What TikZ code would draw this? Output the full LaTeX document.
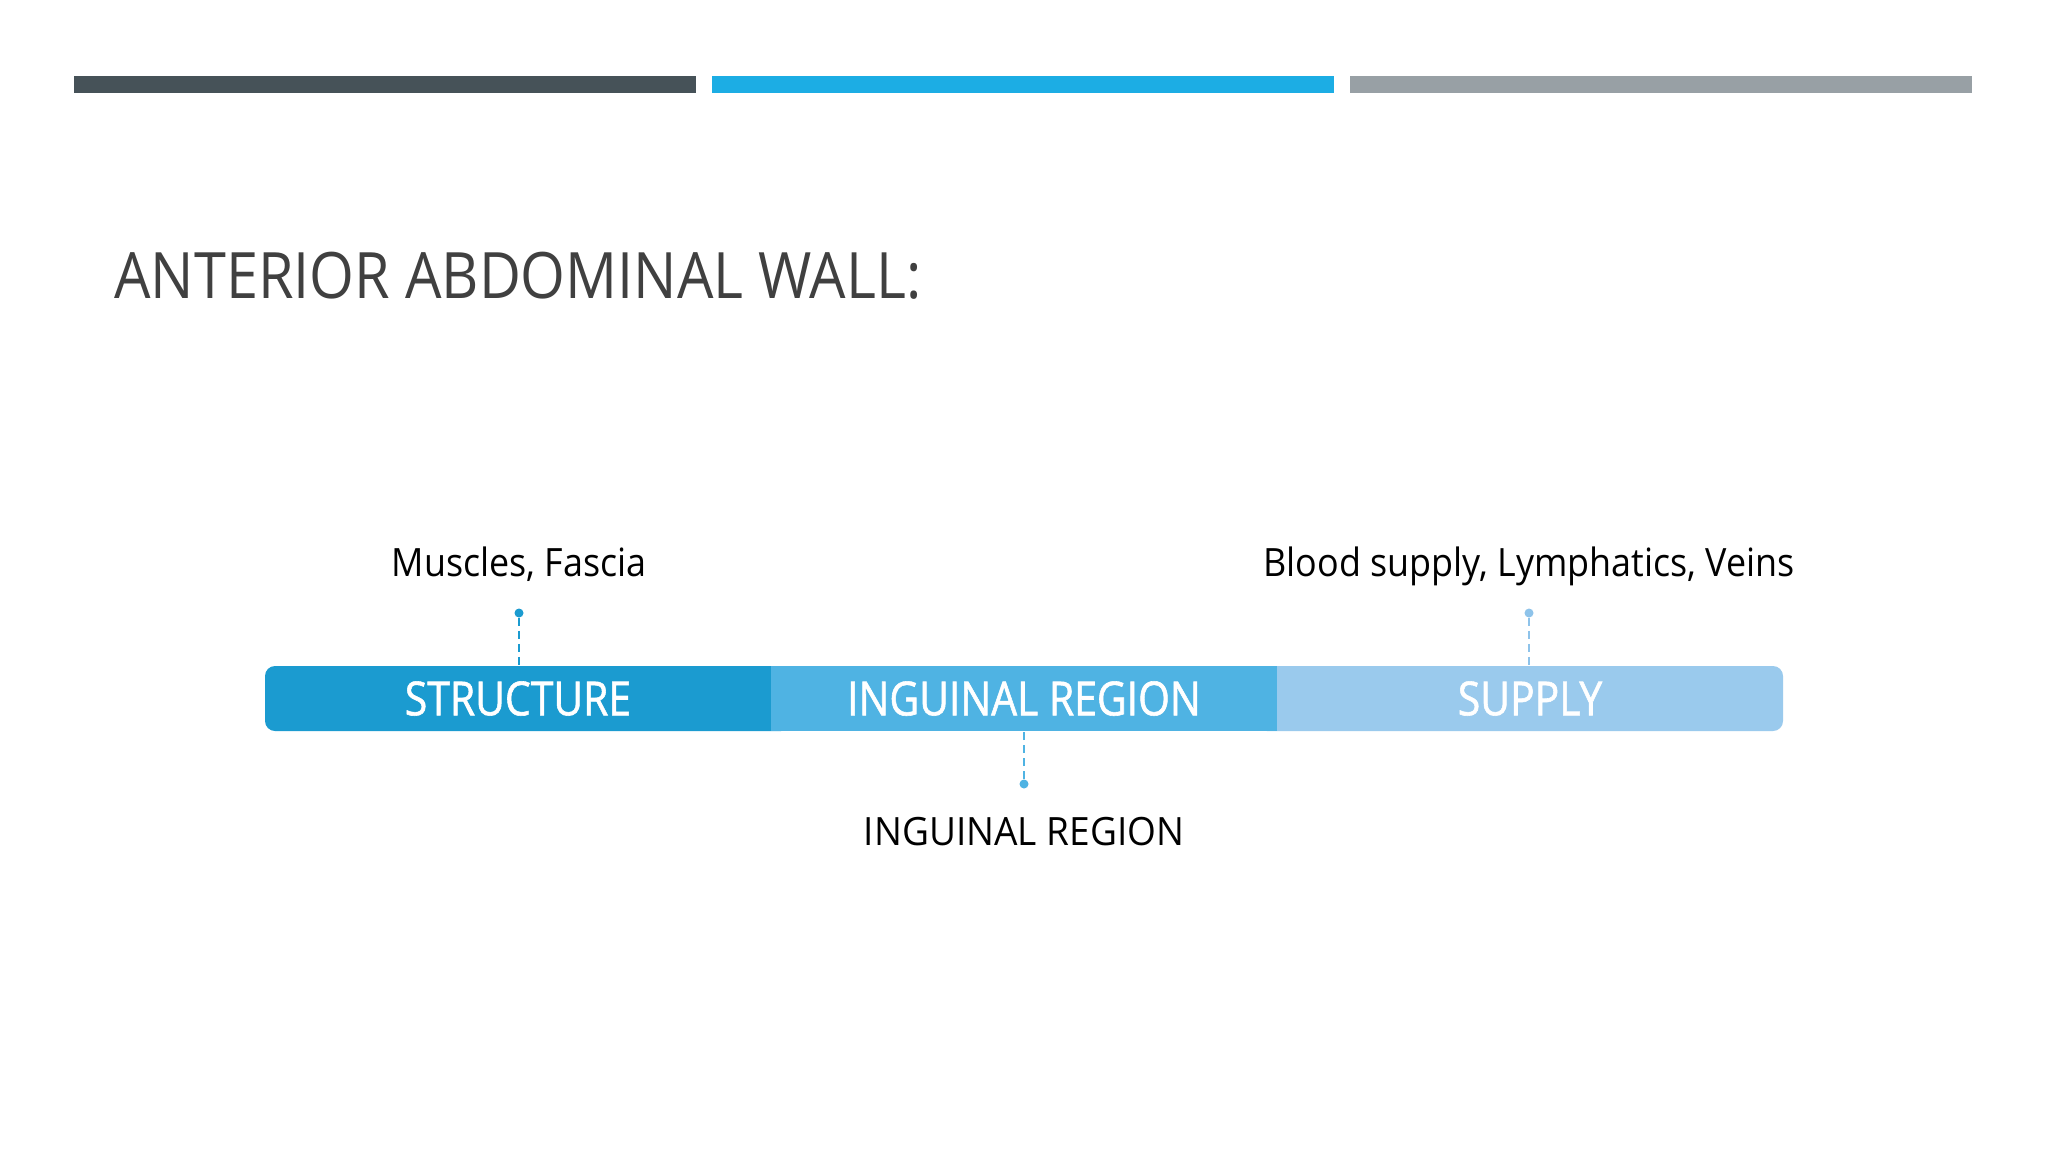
\documentclass[tikz,border=0pt]{standalone}
\usepackage{fontspec}
\setmainfont{Open Sans}[FakeStretch=0.92]
\newfontfamily\titlefont{Open Sans}[FakeStretch=0.90]
\newfontfamily\widefont{Open Sans}[FakeStretch=0.95]
\newfontfamily\segfont{Open Sans}[FakeStretch=0.87, FakeBold=1.2]
\begin{document}
\begin{tikzpicture}[x=0.5pt,y=-0.5pt,
  topbar/.style={inner sep=0pt, minimum height=8.5pt, minimum width=311pt},
  segtext/.style={inner sep=0pt, minimum width=253pt, minimum height=32.5pt, text=white, font=\segfont\fontsize{23.5}{27}\selectfont},
  lbl/.style={inner sep=0pt, anchor=base, text=black, font=\fontsize{19.5}{23}\selectfont},
  dotnode/.style={circle, inner sep=0pt, minimum size=4.5pt},
  dashline/.style={line width=1.1pt, dash pattern=on 4pt off 2.5pt}]
\definecolor{barA}{RGB}{70,82,88}
\definecolor{barB}{RGB}{28,173,228}
\definecolor{barC}{RGB}{152,160,165}
\definecolor{segA}{RGB}{27,155,208}
\definecolor{segB}{RGB}{79,179,227}
\definecolor{segC}{RGB}{154,202,237}
\definecolor{dotC}{RGB}{142,195,234}
\definecolor{titlec}{RGB}{64,64,64}
\useasboundingbox (0,0) rectangle (2048,1152);
\fill[white] (0,0) rectangle (2048,1152);
% top bars
\node[topbar, fill=barA] (b1) at (385,84.5) {};
\node[topbar, fill=barB] (b2) at (1023,84.5) {};
\node[topbar, fill=barC] (b3) at (1661,84.5) {};
% title
\node[anchor=base west, inner sep=0pt, text=titlec, font=\titlefont\fontsize{32}{38}\selectfont] (title) at (114,298) {ANTERIOR ABDOMINAL WALL:};
% timeline fills
\fill[segA, rounded corners=5pt] (265,666) rectangle (791,731);
\fill[segC, rounded corners=5pt] (1257,666) rectangle (1783,731);
\fill[segB] (771,666) rectangle (1277,731);
% segment labels
\node[segtext] (s1) at (518,698.5) {STRUCTURE};
\node[segtext] (s2) at (1024,698.5) {INGUINAL REGION};
\node[segtext] (s3) at (1530,698.5) {SUPPLY};
% dots and connectors
\node[dotnode, fill=segA] (d1) at (519,613) {};
\node[dotnode, fill=segB] (d2) at (1024,784) {};
\node[dotnode, fill=dotC] (d3) at (1529,613) {};
\draw[dashline, draw=segA] (d1) -- (d1 |- s1.north);
\draw[dashline, draw=segB] (d2) -- (d2 |- s2.south);
\draw[dashline, draw=dotC] (d3) -- (d3 |- s3.north);
% labels
\node[lbl] (l1) at (519,576) {Muscles, Fascia};
\node[lbl, font=\widefont\fontsize{19.5}{23}\selectfont] (l2) at (1024,845) {INGUINAL REGION};
\node[lbl] (l3) at (1529,576) {Blood supply, Lymphatics, Veins};
\end{tikzpicture}
\end{document}
